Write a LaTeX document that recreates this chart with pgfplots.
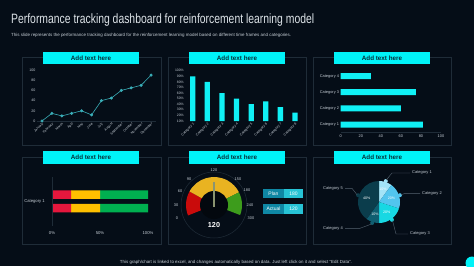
\documentclass[border=0pt]{standalone}
\usepackage{pgfplots}
\pgfplotsset{compat=1.18}
\usepackage{fontspec}
\setmainfont{Liberation Sans}
\usepackage{graphicx}

\definecolor{bg}{HTML}{050D17}
\definecolor{panelc}{HTML}{1F2C38}
\definecolor{banner}{HTML}{00F3F8}
\definecolor{bannertext}{HTML}{06303A}
\definecolor{tickc}{HTML}{C5CDD5}
\definecolor{titlec}{HTML}{DDE3E8}
\definecolor{linec}{HTML}{3AAEB8}
\definecolor{barc}{HTML}{10F0F5}
\definecolor{sred}{HTML}{E5173D}
\definecolor{syel}{HTML}{FFC000}
\definecolor{sgrn}{HTML}{00B050}
\definecolor{gred}{HTML}{C90B0B}
\definecolor{gyel}{HTML}{E9B321}
\definecolor{ggrn}{HTML}{3D9C1C}
\definecolor{gcen}{HTML}{03080E}
\definecolor{needle}{HTML}{8A9470}
\definecolor{planl}{HTML}{0F87A4}
\definecolor{planv}{HTML}{27C3D5}
\definecolor{pie1}{HTML}{A3E4F7}
\definecolor{pie2}{HTML}{52C5EE}
\definecolor{pie3}{HTML}{17D8E3}
\definecolor{pie4}{HTML}{0F5E71}
\definecolor{pie5}{HTML}{0B3D4C}
\definecolor{leader}{HTML}{55636F}

\newcommand{\fs}[1]{\fontsize{#1}{#1}\selectfont}
\pgfplotsset{
  dash/.style={
    scale only axis, anchor=south west,
    /pgf/number format/assume math mode=true,
    tick label style={text=tickc},
    major tick length=0pt, minor tick num=0,
    axis line style={draw=none},
  },
}

\begin{document}
\begin{tikzpicture}[x=1pt,y=1pt]
\fill[bg] (0,0) rectangle (474,266);
\useasboundingbox (0,0) rectangle (474,266);

% title
\node[anchor=base west, inner sep=0, text=titlec] at (11,242.5)
  {\resizebox{303pt}{9.8pt}{Performance tracking dashboard for reinforcement learning model}};
\node[anchor=base west, inner sep=0, text=tickc] at (11,229.8)
  {\resizebox{280pt}{!}{\fs{5}This slide represents the performance tracking dashboard for the reinforcement learning model based on different time frames and categories.}};
\node[anchor=base, inner sep=0, text=tickc!85] at (236,2.5)
  {\resizebox{232pt}{!}{\fs{5}This graph/chart is linked to excel, and changes automatically based on data. Just left click on it and select “Edit Data”.}};
\begin{scope}
\clip (0,0) rectangle (474,266);
\fill[banner] (472,3) circle (6.5);
\end{scope}

% panels
\foreach \pa/\pb in {22/161,168/306,313/451}{
  \draw[panelc, line width=0.4pt] (\pa,121) rectangle (\pb,209);
  \draw[panelc, line width=0.4pt] (\pa,22) rectangle (\pb,109);
}
% banners
\foreach \pa/\pb/\pc in {43/139/91,189/285/237,334/430/382}{
  \fill[banner] (\pa,202) rectangle (\pb,214);
  \node[text=bannertext, font=\fs{6.3}\bfseries] at (\pc,208) {Add text here};
  \fill[banner] (\pa,102) rectangle (\pb,115);
  \node[text=bannertext, font=\fs{6.3}\bfseries] at (\pc,108.5) {Add text here};
}

% chart 1: line
\begin{axis}[dash, at={(37pt,145pt)}, width=119pt, height=51pt,
  xmin=-0.5, xmax=11.5, ymin=0, ymax=100, ytick={0,20,...,100}, xtick={0,...,11},
  xticklabels={January,February,March,April,May,June,July,August,September,October,November,December},
  tick label style={font=\fs{3.6}},
  xticklabel style={rotate=45, anchor=north east, inner sep=0.8pt, font=\fs{3.3}},
  yticklabel style={inner sep=1.5pt},
  clip=false]
\draw[panelc] (rel axis cs:0,0) -- (rel axis cs:1,0);
\addplot[linec, line width=0.6pt, mark=*, mark size=1.2pt, mark options={fill=linec, draw=linec}]
  coordinates {(0,0)(1,15)(2,10)(3,15)(4,20)(5,12)(6,40)(7,45)(8,60)(9,65)(10,70)(11,90)};
\end{axis}

% chart 2: column
\begin{axis}[dash, at={(185.4pt,145pt)}, width=116.9pt, height=50.3pt,
  ybar, bar width=5.3pt,
  xmin=0.5, xmax=8.5, ymin=10, ymax=100, ytick={10,20,...,100},
  yticklabel={\pgfmathprintnumber{\tick}\%},
  xtick={1,...,8},
  xticklabels={Category 1,Category 2,Category 3,Category 4,Category 5,Category 6,Category 7,Category 8},
  tick label style={font=\fs{3.4}},
  xticklabel style={rotate=45, anchor=north east, inner sep=1pt},
  yticklabel style={inner sep=1.5pt}]
\addplot[fill=barc, draw=none] coordinates {(1,90)(2,80)(3,60)(4,50)(5,40)(6,45)(7,35)(8,25)};
\end{axis}

% chart 3: horizontal bars
\begin{axis}[dash, at={(340.7pt,133.4pt)}, width=100.3pt, height=64.6pt,
  xbar, bar width=6pt,
  xmin=0, xmax=100, ymin=0.5, ymax=4.5, xtick={0,20,...,100}, ytick={1,2,3,4},
  yticklabels={Category 1,Category 2,Category 3,Category 4},
  tick label style={font=\fs{3.9}},
  yticklabel style={inner sep=1.5pt}, xticklabel style={inner sep=2pt}]
\draw[panelc] (rel axis cs:0,0) -- (rel axis cs:1,0);
\addplot[fill=barc, draw=none] coordinates {(82,1)(60,2)(75,3)(30,4)};
\end{axis}

% chart 4: stacked bars
\begin{axis}[dash, at={(52pt,40.25pt)}, width=96pt, height=48.6pt,
  xbar stacked, bar width=8.5pt,
  xmin=0, xmax=100, ymin=-0.3, ymax=3.3, xtick={0,50,100},
  xticklabel={\pgfmathprintnumber{\tick}\%},
  ytick={1.5}, yticklabels={Category 1},
  tick label style={font=\fs{4.2}},
  xticklabel style={yshift=-2.5pt}, yticklabel style={inner sep=2pt, xshift=-5pt},
  clip=false]
\draw[panelc] (rel axis cs:0,0) -- (rel axis cs:0,1);
\addplot[fill=sred, draw=none] coordinates {(20,1)(20,2)};
\addplot[fill=syel, draw=none] coordinates {(30,1)(30,2)};
\addplot[fill=sgrn, draw=none] coordinates {(50,1)(50,2)};
\end{axis}

% chart 5: gauge
\draw[panelc, line width=0.5pt] (214,61) circle (33);
\fill[gred] (214,61) -- ++(202:28) arc[start angle=202, end angle=151, radius=28] -- cycle;
\fill[gyel] (214,61) -- ++(151:28) arc[start angle=151, end angle=27, radius=28] -- cycle;
\fill[ggrn] (214,61) -- ++(27:28) arc[start angle=27, end angle=-21, radius=28] -- cycle;
\fill[gcen] (214,61) circle (14);
\draw[needle, line width=1.1pt] (214,59) -- (214,84);
\foreach \t/\px/\py in {0/177/48,30/176/61,60/180/75,90/189/87,120/214/96,150/238/87,180/247/76,240/250/61,300/251/48}{
  \node[text=tickc, font=\fs{3.9}, inner sep=0] at (\px,\py) {\t};
}
\node[text=white, font=\fs{7.2}\bfseries] at (214,41) {120};
\fill[planl] (263,68) rectangle (284,77);
\fill[planv] (284,68) rectangle (303,77);
\fill[planl] (263,52) rectangle (284,62);
\fill[planv] (284,52) rectangle (303,62);
\node[text=white, font=\fs{5}] at (273.5,72.5) {Plan};
\node[text=white, font=\fs{5}] at (293.5,72.5) {180};
\node[text=white, font=\fs{5}] at (273.5,57) {Actual};
\node[text=white, font=\fs{5}] at (293.5,57) {120};

% chart 6: pie
\def\pcx{379}\def\pcy{64}\def\pr{21}
\fill[pie1] (\pcx,\pcy) -- ++(90:\pr) arc[start angle=90, end angle=54, radius=\pr] -- cycle;
\fill[pie2] (\pcx,\pcy) -- ++(54:\pr) arc[start angle=54, end angle=-18, radius=\pr] -- cycle;
\fill[pie3] (\pcx,\pcy) -- ++(-18:\pr) arc[start angle=-18, end angle=-90, radius=\pr] -- cycle;
\fill[pie4] (\pcx,\pcy) -- ++(-90:\pr) arc[start angle=-90, end angle=-126, radius=\pr] -- cycle;
\fill[pie5] (\pcx,\pcy) -- ++(-126:\pr) arc[start angle=-126, end angle=-270, radius=\pr] -- cycle;
\foreach \a/\cc/\v in {72/pie1/10\%,18/pie2/20\%,-54/pie3/20\%,-108/pie4/10\%,162/pie5/40\%}{
  \node[text=white, font=\fs{3.6}] at ([shift={(\a:13)}]\pcx,\pcy) {\v};
  \fill[\cc] ([shift={(\a:22)}]\pcx,\pcy) circle (2);
}
\draw[leader, line width=0.4pt] ([shift={(72:23)}]\pcx,\pcy) -- (392,93) -- (410,93);
\draw[leader, line width=0.4pt] ([shift={(18:23)}]\pcx,\pcy) -- (405,72.7) -- (420,72.7);
\draw[leader, line width=0.4pt] ([shift={(-54:23)}]\pcx,\pcy) -- (396,32) -- (408,32);
\draw[leader, line width=0.4pt] ([shift={(-108:23)}]\pcx,\pcy) -- (360,37.7) -- (345,37.7);
\draw[leader, line width=0.4pt] ([shift={(162:23)}]\pcx,\pcy) -- (352,77.7) -- (345,77.7);
\node[anchor=west, text=tickc, font=\fs{4}, inner sep=0] at (412,93) {Category 1};
\node[anchor=west, text=tickc, font=\fs{4}, inner sep=0] at (422,72.7) {Category 2};
\node[anchor=west, text=tickc, font=\fs{4}, inner sep=0] at (410,32) {Category 3};
\node[anchor=east, text=tickc, font=\fs{4}, inner sep=0] at (343,37.7) {Category 4};
\node[anchor=east, text=tickc, font=\fs{4}, inner sep=0] at (343,77.7) {Category 5};
\end{tikzpicture}
\end{document}
